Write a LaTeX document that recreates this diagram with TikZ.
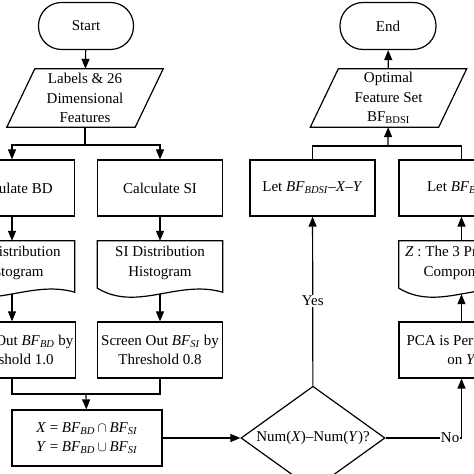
\documentclass[tikz,border=0pt]{standalone}
\usepackage{fontspec}
\setmainfont{Liberation Serif}
\usetikzlibrary{arrows.meta,shapes.geometric,calc}

\newcommand{\bfsub}[1]{\textit{BF}\textsubscript{\textit{#1}}}
% document box: wavy bottom drawn round a plain node
\newcommand{\docpath}[1]{%
  \draw[fc line] (#1.north west) -- (#1.north east) -- ($(#1.south east)+(0,-7)$)
    .. controls ($(#1.south east)+(-45,6)$) and ($(#1.south west)+(40,-27)$)
    .. ($(#1.south west)+(0,-3)$) -- cycle;}
% input/output box: slanted sides drawn round a plain node
\newcommand{\iopath}[1]{%
  \draw[fc line] ($(#1.south west)+(-14,0)$) -- ($(#1.south east)+(-14,0)$)
    -- ($(#1.north east)+(14,0)$) -- ($(#1.north west)+(14,0)$) -- cycle;}

\begin{document}
\begin{tikzpicture}[
  x=1pt, y=1pt,
  every node/.style={font=\fontsize{15}{19.5}\selectfont},
  fc line/.style={line width=1.2pt},
  arr/.style={fc line, -{Triangle[length=10pt,width=8pt]}},
  proc/.style={draw, fc line, minimum width=125pt, minimum height=56pt, align=center, inner sep=2pt},
  term/.style={draw, fc line, rounded corners=23pt, minimum width=95pt, minimum height=47pt},
  io/.style={minimum width=128pt, minimum height=58pt, align=center, inner sep=0pt},
  doc/.style={minimum width=125pt, minimum height=44pt, align=center, inner sep=0pt},
  dec/.style={draw, fc line, diamond, minimum width=144pt, minimum height=63pt, inner sep=0pt}
]
\useasboundingbox (0,0) rectangle (474,474);
\clip (0,0) rectangle (474,474);

% left part
\node[term] (start) at (86,448) {Start};
\node[io] (labels) at (85,376) {Labels \& 26\\Dimensional\\Features};
\iopath{labels}
\node[proc] (calcBD) at (12,286) {Calculate BD};
\node[proc] (calcSI) at (160,286) {Calculate SI};
\node[doc] (histBD) at (12,211) {BD Distribution\\Histogram};
\node[doc] (histSI) at (160,211) {SI Distribution\\Histogram};
\docpath{histBD}
\docpath{histSI}
\node[proc] (screenBD) at (12,124) {Screen Out \bfsub{BD} by\\Threshold 1.0};
\node[proc] (screenSI) at (160,124) {Screen Out \bfsub{SI} by\\Threshold 0.8};
\node[proc, minimum width=150pt] (sets) at (87,36)
  {\textit{X} = \bfsub{BD}\,$\cap$\,\bfsub{SI}\\\textit{Y} = \bfsub{BD}\,$\cup$\,\bfsub{SI}};
\coordinate (split) at (85,329);
\coordinate (merge) at (86,80);

% right part
\node[dec] (check) at (313,36) {\makebox[90pt]{Num(\textit{X})–Num(\textit{Y})?}};
\node[proc] (letBDSI) at (312.5,286) {Let \bfsub{BDSI}–\textit{X}–\textit{Y}};
\node[proc] (letBI) at (461.5,286) {Let \bfsub{BI}–\textit{Z}};
\node[doc] (docZ) at (461.5,211) {\textit{Z} : The 3 Principal\\Components};
\docpath{docZ}
\node[proc] (pca) at (461.5,124) {PCA is Performed\\on \textit{Y}};
\node[io] (optimal) at (388.5,376) {Optimal\\Feature Set\\BF\textsubscript{BDSI}};
\iopath{optimal}
\node[term, minimum width=96pt] (stop) at (388,448) {End};
\coordinate (join) at (388,328);

% connectors
\draw[arr] (start) -- (labels);
\draw[fc line] (labels.south) -- (split);
\draw[arr] (split) -| (calcBD);
\draw[arr] (split) -| (calcSI);
\draw[arr] (calcBD) -- (histBD);
\draw[arr] (calcSI) -- (histSI);
\draw[arr] ($(histBD.south)+(0,-9)$) -- (screenBD);
\draw[arr] ($(histSI.south)+(0,-9)$) -- (screenSI);
\draw[fc line] (screenBD.south) |- (merge);
\draw[fc line] (screenSI.south) |- (merge);
\draw[arr] (merge) -- (sets);
\draw[arr] (sets) -- (check);
\draw[arr] (check) -- node[fill=white, inner sep=1pt] {Yes} (letBDSI);
\draw[arr] (check.east) -| node[pos=0.5, anchor=east, xshift=-0.6pt, fill=white, inner sep=1pt] {No} (pca);
\draw[arr] (pca) -- ($(docZ.south)+(0,-9)$);
\draw[arr] (docZ) -- (letBI);
\draw[fc line] (letBDSI.north) |- (join);
\draw[fc line] (letBI.north) |- (join);
\draw[arr] (join) -- (optimal);
\draw[arr] (optimal) -- (stop);
\end{tikzpicture}
\end{document}
